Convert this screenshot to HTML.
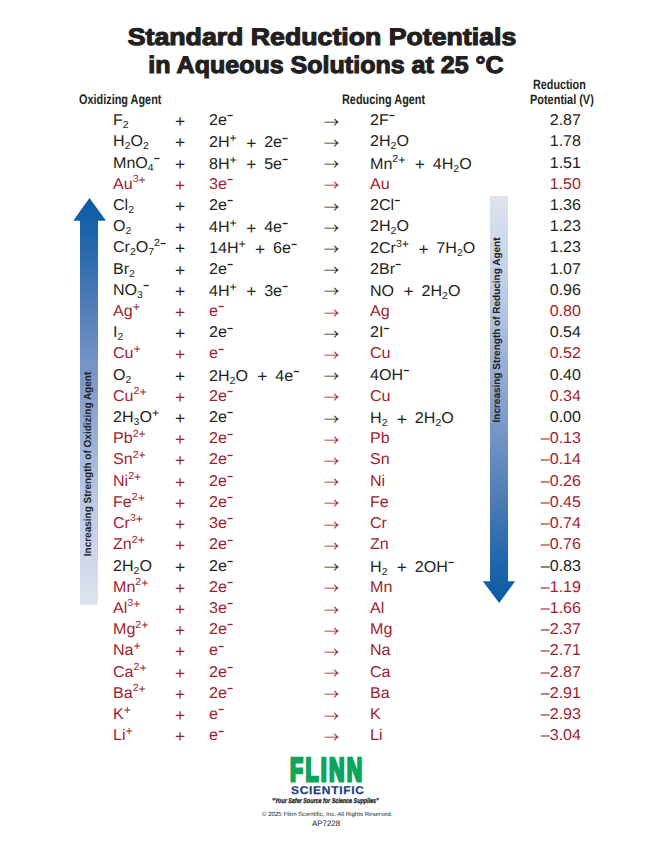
<!DOCTYPE html><html><head><meta charset="utf-8"><style>
*{margin:0;padding:0;box-sizing:border-box}
html,body{width:651px;height:843px;background:#fff;overflow:hidden}
body{position:relative;font-family:"Liberation Sans",Arial,sans-serif;color:#231f20;text-rendering:geometricPrecision}
.t{position:absolute;white-space:nowrap}
.b{font-weight:bold}
.row{position:absolute;left:0;width:651px;height:22px;font-size:15.7px;line-height:22px;color:#231f20}
.row.r{color:#9f1d2e}
.c{position:absolute;top:0;white-space:nowrap;transform:scaleX(1.025);transform-origin:0 50%}
.pot{text-align:right;width:60px;transform-origin:100% 50%}
.pl{font-size:17px}
.sb{font-size:10.2px;position:relative;top:3.0px}
.sd{font-size:10.3px;position:relative;top:-6.6px}
.spl{font-size:12px;position:relative;top:-5.0px}
.sm{display:inline-block;font-size:10px;font-weight:bold;position:relative;top:-6.65px;transform:scaleY(1.3);margin-left:0.3px}
.ip{margin:0 7.6px 0 9.2px;font-size:17px;position:relative;top:1.5px}
.pl{top:1px}
.ar{font-family:"Noto Sans CJK JP",sans-serif;font-weight:350;font-size:15.5px;left:323.7px;top:0.6px;transform:none}
</style></head><body><div class="t" style="left:322.35px;top:22.00px;font-size:24px;line-height:31px;font-weight:bold;-webkit-text-stroke:1.1px #231f20;color:#231f20;transform:translateX(-50%) scaleX(1.112);transform-origin:50% 50%">Standard Reduction Potentials</div><div class="t" style="left:326.45px;top:50.20px;font-size:24px;line-height:31px;font-weight:bold;-webkit-text-stroke:1.1px #231f20;color:#231f20;transform:translateX(-50%) scaleX(1.043);transform-origin:50% 50%">in Aqueous Solutions at 25 °C</div><div class="t" style="left:79.3px;top:90.90px;font-size:13.8px;line-height:18px;transform:scaleX(0.789);transform-origin:0 0;font-weight:bold;color:#231f20">Oxidizing Agent</div><div class="t" style="left:342.2px;top:90.80px;font-size:13.8px;line-height:18px;transform:scaleX(0.79);transform-origin:0 0;font-weight:bold;color:#231f20">Reducing Agent</div><div class="t" style="left:533.4px;top:75.70px;font-size:13.5px;line-height:18px;transform:scaleX(0.8);transform-origin:0 0;font-weight:bold;color:#231f20">Reduction</div><div class="t" style="left:529.6px;top:90.80px;font-size:13.5px;line-height:18px;transform:scaleX(0.81);transform-origin:0 0;font-weight:bold;color:#231f20">Potential (V)</div><svg class="t" style="left:0;top:0" width="651" height="843">
 <defs>
  <linearGradient id="gl" gradientUnits="userSpaceOnUse" x1="0" y1="198" x2="0" y2="605">
   <stop offset="0" stop-color="#0a5ba3"/><stop offset="0.1" stop-color="#1f66aa"/><stop offset="0.25" stop-color="#4d7bb5"/><stop offset="0.5" stop-color="#88a2cf"/><stop offset="0.75" stop-color="#bccae5"/><stop offset="1" stop-color="#dfe3ef"/>
  </linearGradient>
  <linearGradient id="gr" gradientUnits="userSpaceOnUse" x1="0" y1="196" x2="0" y2="603">
   <stop offset="0" stop-color="#dfe3ef"/><stop offset="0.25" stop-color="#bccae5"/><stop offset="0.5" stop-color="#88a2cf"/><stop offset="0.75" stop-color="#4d7bb5"/><stop offset="0.9" stop-color="#1f66aa"/><stop offset="1" stop-color="#0a5ba3"/>
  </linearGradient>
 </defs>
 <polygon points="89.5,198 106,220.8 98,220.8 98,604.8 80,604.8 80,220.8 73.2,220.8" fill="url(#gl)"/>
 <polygon points="490,196 508,196 508,581.2 515.2,581.2 499.2,603 482.8,581.2 490,581.2" fill="url(#gr)"/>
</svg><div class="t" style="left:89.3px;top:463.5px;font-size:10.3px;line-height:10.3px;font-weight:bold;color:#231f20;transform:translate(-50%,-50%) rotate(-90deg) scaleX(0.97);transform-origin:50% 50%">Increasing Strength of Oxidizing Agent</div><div class="t" style="left:497.9px;top:329.5px;font-size:10.3px;line-height:10.3px;font-weight:bold;color:#231f20;transform:translate(-50%,-50%) rotate(-90deg) scaleX(0.97);transform-origin:50% 50%">Increasing Strength of Reducing Agent</div><div class="row" style="top:110.10px"><span class="c" style="left:113.05px">F<span class="sb">2</span></span><span class="c pl" style="left:174.6px">+</span><span class="c" style="left:209.3px">2e<span class="sm">–</span></span><span class="c ar">→</span><span class="c" style="left:369.7px">2F<span class="sm">–</span></span><span class="c pot" style="left:521px">2.87</span></div><div class="row" style="top:131.31px"><span class="c" style="left:113.05px">H<span class="sb">2</span>O<span class="sb">2</span></span><span class="c pl" style="left:174.6px">+</span><span class="c" style="left:209.3px">2H<span class="spl">+</span><span class="ip">+</span>2e<span class="sm">–</span></span><span class="c ar">→</span><span class="c" style="left:369.7px">2H<span class="sb">2</span>O</span><span class="c pot" style="left:521px">1.78</span></div><div class="row" style="top:152.52px"><span class="c" style="left:113.05px">MnO<span class="sb">4</span><span class="sm">–</span></span><span class="c pl" style="left:174.6px">+</span><span class="c" style="left:209.3px">8H<span class="spl">+</span><span class="ip">+</span>5e<span class="sm">–</span></span><span class="c ar">→</span><span class="c" style="left:369.7px">Mn<span class="sd">2</span><span class="spl">+</span><span class="ip">+</span>4H<span class="sb">2</span>O</span><span class="c pot" style="left:521px">1.51</span></div><div class="row r" style="top:173.73px"><span class="c" style="left:113.05px">Au<span class="sd">3</span><span class="spl">+</span></span><span class="c pl" style="left:174.6px">+</span><span class="c" style="left:209.3px">3e<span class="sm">–</span></span><span class="c ar">→</span><span class="c" style="left:369.7px">Au</span><span class="c pot" style="left:521px">1.50</span></div><div class="row" style="top:194.94px"><span class="c" style="left:113.05px">Cl<span class="sb">2</span></span><span class="c pl" style="left:174.6px">+</span><span class="c" style="left:209.3px">2e<span class="sm">–</span></span><span class="c ar">→</span><span class="c" style="left:369.7px">2Cl<span class="sm">–</span></span><span class="c pot" style="left:521px">1.36</span></div><div class="row" style="top:216.15px"><span class="c" style="left:113.05px">O<span class="sb">2</span></span><span class="c pl" style="left:174.6px">+</span><span class="c" style="left:209.3px">4H<span class="spl">+</span><span class="ip">+</span>4e<span class="sm">–</span></span><span class="c ar">→</span><span class="c" style="left:369.7px">2H<span class="sb">2</span>O</span><span class="c pot" style="left:521px">1.23</span></div><div class="row" style="top:237.36px"><span class="c" style="left:113.05px">Cr<span class="sb">2</span>O<span class="sb">7</span><span class="sd">2</span><span class="sm">–</span></span><span class="c pl" style="left:174.6px">+</span><span class="c" style="left:209.3px">14H<span class="spl">+</span><span class="ip">+</span>6e<span class="sm">–</span></span><span class="c ar">→</span><span class="c" style="left:369.7px">2Cr<span class="sd">3</span><span class="spl">+</span><span class="ip">+</span>7H<span class="sb">2</span>O</span><span class="c pot" style="left:521px">1.23</span></div><div class="row" style="top:258.57px"><span class="c" style="left:113.05px">Br<span class="sb">2</span></span><span class="c pl" style="left:174.6px">+</span><span class="c" style="left:209.3px">2e<span class="sm">–</span></span><span class="c ar">→</span><span class="c" style="left:369.7px">2Br<span class="sm">–</span></span><span class="c pot" style="left:521px">1.07</span></div><div class="row" style="top:279.78px"><span class="c" style="left:113.05px">NO<span class="sb">3</span><span class="sm">–</span></span><span class="c pl" style="left:174.6px">+</span><span class="c" style="left:209.3px">4H<span class="spl">+</span><span class="ip">+</span>3e<span class="sm">–</span></span><span class="c ar">→</span><span class="c" style="left:369.7px">NO<span class="ip">+</span>2H<span class="sb">2</span>O</span><span class="c pot" style="left:521px">0.96</span></div><div class="row r" style="top:300.99px"><span class="c" style="left:113.05px">Ag<span class="spl">+</span></span><span class="c pl" style="left:174.6px">+</span><span class="c" style="left:209.3px">e<span class="sm">–</span></span><span class="c ar">→</span><span class="c" style="left:369.7px">Ag</span><span class="c pot" style="left:521px">0.80</span></div><div class="row" style="top:322.20px"><span class="c" style="left:113.05px">I<span class="sb">2</span></span><span class="c pl" style="left:174.6px">+</span><span class="c" style="left:209.3px">2e<span class="sm">–</span></span><span class="c ar">→</span><span class="c" style="left:369.7px">2I<span class="sm">–</span></span><span class="c pot" style="left:521px">0.54</span></div><div class="row r" style="top:343.41px"><span class="c" style="left:113.05px">Cu<span class="spl">+</span></span><span class="c pl" style="left:174.6px">+</span><span class="c" style="left:209.3px">e<span class="sm">–</span></span><span class="c ar">→</span><span class="c" style="left:369.7px">Cu</span><span class="c pot" style="left:521px">0.52</span></div><div class="row" style="top:364.62px"><span class="c" style="left:113.05px">O<span class="sb">2</span></span><span class="c pl" style="left:174.6px">+</span><span class="c" style="left:209.3px">2H<span class="sb">2</span>O<span class="ip">+</span>4e<span class="sm">–</span></span><span class="c ar">→</span><span class="c" style="left:369.7px">4OH<span class="sm">–</span></span><span class="c pot" style="left:521px">0.40</span></div><div class="row r" style="top:385.83px"><span class="c" style="left:113.05px">Cu<span class="sd">2</span><span class="spl">+</span></span><span class="c pl" style="left:174.6px">+</span><span class="c" style="left:209.3px">2e<span class="sm">–</span></span><span class="c ar">→</span><span class="c" style="left:369.7px">Cu</span><span class="c pot" style="left:521px">0.34</span></div><div class="row" style="top:407.04px"><span class="c" style="left:113.05px">2H<span class="sb">3</span>O<span class="spl">+</span></span><span class="c pl" style="left:174.6px">+</span><span class="c" style="left:209.3px">2e<span class="sm">–</span></span><span class="c ar">→</span><span class="c" style="left:369.7px">H<span class="sb">2</span><span class="ip">+</span>2H<span class="sb">2</span>O</span><span class="c pot" style="left:521px">0.00</span></div><div class="row r" style="top:428.25px"><span class="c" style="left:113.05px">Pb<span class="sd">2</span><span class="spl">+</span></span><span class="c pl" style="left:174.6px">+</span><span class="c" style="left:209.3px">2e<span class="sm">–</span></span><span class="c ar">→</span><span class="c" style="left:369.7px">Pb</span><span class="c pot" style="left:521px">–0.13</span></div><div class="row r" style="top:449.46px"><span class="c" style="left:113.05px">Sn<span class="sd">2</span><span class="spl">+</span></span><span class="c pl" style="left:174.6px">+</span><span class="c" style="left:209.3px">2e<span class="sm">–</span></span><span class="c ar">→</span><span class="c" style="left:369.7px">Sn</span><span class="c pot" style="left:521px">–0.14</span></div><div class="row r" style="top:470.67px"><span class="c" style="left:113.05px">Ni<span class="sd">2</span><span class="spl">+</span></span><span class="c pl" style="left:174.6px">+</span><span class="c" style="left:209.3px">2e<span class="sm">–</span></span><span class="c ar">→</span><span class="c" style="left:369.7px">Ni</span><span class="c pot" style="left:521px">–0.26</span></div><div class="row r" style="top:491.88px"><span class="c" style="left:113.05px">Fe<span class="sd">2</span><span class="spl">+</span></span><span class="c pl" style="left:174.6px">+</span><span class="c" style="left:209.3px">2e<span class="sm">–</span></span><span class="c ar">→</span><span class="c" style="left:369.7px">Fe</span><span class="c pot" style="left:521px">–0.45</span></div><div class="row r" style="top:513.09px"><span class="c" style="left:113.05px">Cr<span class="sd">3</span><span class="spl">+</span></span><span class="c pl" style="left:174.6px">+</span><span class="c" style="left:209.3px">3e<span class="sm">–</span></span><span class="c ar">→</span><span class="c" style="left:369.7px">Cr</span><span class="c pot" style="left:521px">–0.74</span></div><div class="row r" style="top:534.30px"><span class="c" style="left:113.05px">Zn<span class="sd">2</span><span class="spl">+</span></span><span class="c pl" style="left:174.6px">+</span><span class="c" style="left:209.3px">2e<span class="sm">–</span></span><span class="c ar">→</span><span class="c" style="left:369.7px">Zn</span><span class="c pot" style="left:521px">–0.76</span></div><div class="row" style="top:555.51px"><span class="c" style="left:113.05px">2H<span class="sb">2</span>O</span><span class="c pl" style="left:174.6px">+</span><span class="c" style="left:209.3px">2e<span class="sm">–</span></span><span class="c ar">→</span><span class="c" style="left:369.7px">H<span class="sb">2</span><span class="ip">+</span>2OH<span class="sm">–</span></span><span class="c pot" style="left:521px">–0.83</span></div><div class="row r" style="top:576.72px"><span class="c" style="left:113.05px">Mn<span class="sd">2</span><span class="spl">+</span></span><span class="c pl" style="left:174.6px">+</span><span class="c" style="left:209.3px">2e<span class="sm">–</span></span><span class="c ar">→</span><span class="c" style="left:369.7px">Mn</span><span class="c pot" style="left:521px">–1.19</span></div><div class="row r" style="top:597.93px"><span class="c" style="left:113.05px">Al<span class="sd">3</span><span class="spl">+</span></span><span class="c pl" style="left:174.6px">+</span><span class="c" style="left:209.3px">3e<span class="sm">–</span></span><span class="c ar">→</span><span class="c" style="left:369.7px">Al</span><span class="c pot" style="left:521px">–1.66</span></div><div class="row r" style="top:619.14px"><span class="c" style="left:113.05px">Mg<span class="sd">2</span><span class="spl">+</span></span><span class="c pl" style="left:174.6px">+</span><span class="c" style="left:209.3px">2e<span class="sm">–</span></span><span class="c ar">→</span><span class="c" style="left:369.7px">Mg</span><span class="c pot" style="left:521px">–2.37</span></div><div class="row r" style="top:640.35px"><span class="c" style="left:113.05px">Na<span class="spl">+</span></span><span class="c pl" style="left:174.6px">+</span><span class="c" style="left:209.3px">e<span class="sm">–</span></span><span class="c ar">→</span><span class="c" style="left:369.7px">Na</span><span class="c pot" style="left:521px">–2.71</span></div><div class="row r" style="top:661.56px"><span class="c" style="left:113.05px">Ca<span class="sd">2</span><span class="spl">+</span></span><span class="c pl" style="left:174.6px">+</span><span class="c" style="left:209.3px">2e<span class="sm">–</span></span><span class="c ar">→</span><span class="c" style="left:369.7px">Ca</span><span class="c pot" style="left:521px">–2.87</span></div><div class="row r" style="top:682.77px"><span class="c" style="left:113.05px">Ba<span class="sd">2</span><span class="spl">+</span></span><span class="c pl" style="left:174.6px">+</span><span class="c" style="left:209.3px">2e<span class="sm">–</span></span><span class="c ar">→</span><span class="c" style="left:369.7px">Ba</span><span class="c pot" style="left:521px">–2.91</span></div><div class="row r" style="top:703.98px"><span class="c" style="left:113.05px">K<span class="spl">+</span></span><span class="c pl" style="left:174.6px">+</span><span class="c" style="left:209.3px">e<span class="sm">–</span></span><span class="c ar">→</span><span class="c" style="left:369.7px">K</span><span class="c pot" style="left:521px">–2.93</span></div><div class="row r" style="top:725.19px"><span class="c" style="left:113.05px">Li<span class="spl">+</span></span><span class="c pl" style="left:174.6px">+</span><span class="c" style="left:209.3px">e<span class="sm">–</span></span><span class="c ar">→</span><span class="c" style="left:369.7px">Li</span><span class="c pot" style="left:521px">–3.04</span></div><div class="t" style="left:290.4px;top:748.20px;font-size:33px;line-height:43px;transform:scaleX(0.65);transform-origin:0 0;font-weight:bold;color:#0ca55a;-webkit-text-stroke:3px #0ca55a;letter-spacing:3.5px">FLINN</div><div class="t" style="left:291.2px;top:783.60px;font-size:11.2px;line-height:15px;transform:scaleX(1.065);transform-origin:0 0;font-weight:bold;color:#1d3f7f;-webkit-text-stroke:0.25px #1d3f7f;letter-spacing:0.7px">SCIENTIFIC</div><div class="t" style="left:271.6px;top:797.00px;font-size:7px;line-height:9px;transform:scaleX(0.77);transform-origin:0 0;font-weight:bold;font-style:italic;color:#231f20;-webkit-text-stroke:0.3px #231f20">“Your Safer Source for Science Supplies”</div><div class="t" style="left:261.5px;top:811.10px;font-size:6px;line-height:8px;transform:scaleX(1.015);transform-origin:0 0;color:#231f20">© 2025 Flinn Scientific, Inc. All Rights Reserved.</div><div class="t" style="left:311.6px;top:818.90px;font-size:8px;line-height:10px;transform:scaleX(0.99);transform-origin:0 0;color:#231f20">AP7228</div></body></html>
